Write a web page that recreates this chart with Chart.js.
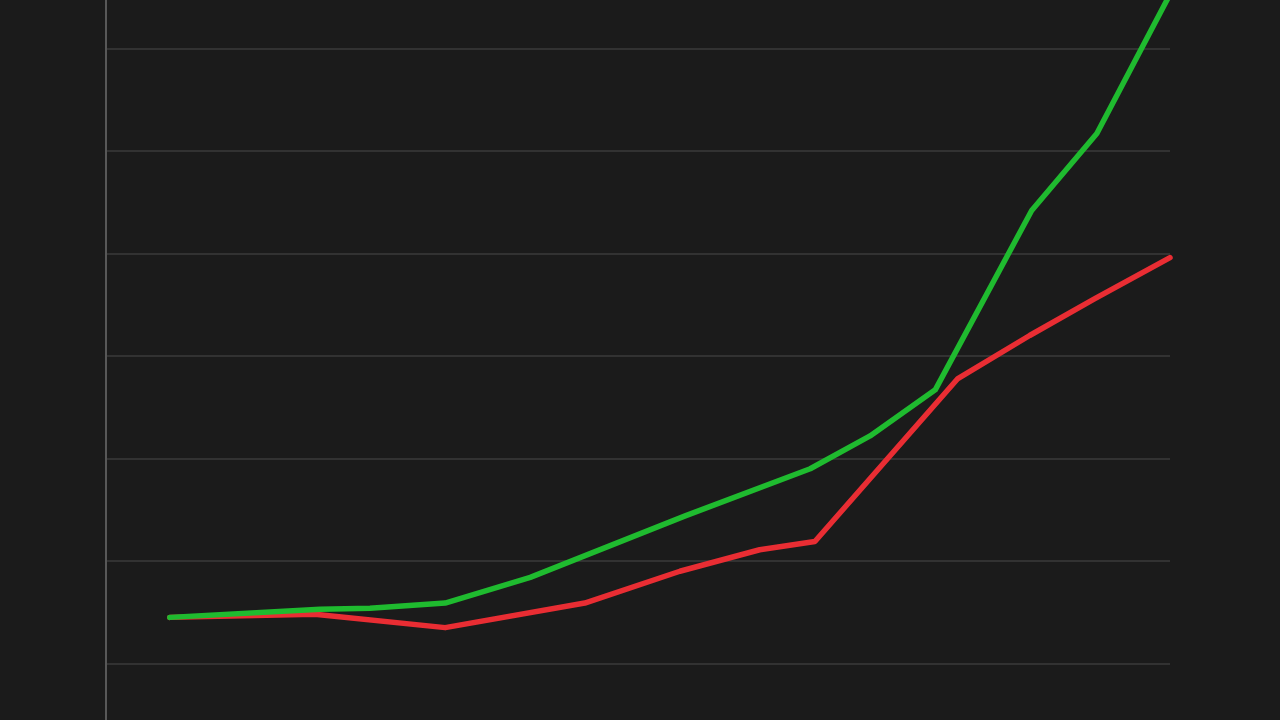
<!DOCTYPE html>
<html>
<head>
<meta charset="utf-8">
<script src="https://cdn.jsdelivr.net/npm/chart.js@4.4.1/dist/chart.umd.min.js"></script>
<style>
  html, body { margin: 0; padding: 0; background: #1b1b1b; overflow: hidden; }
  #wrap { position: absolute; left: 0; top: -54.5px; width: 1280px; height: 820px; }
</style>
</head>
<body>
<div id="wrap"><canvas id="graf"></canvas></div>
<script>
// valores (x em passos, y em unidades da grade)
const verdeX = [0.96, 3.22, 3.97, 5.10, 6.38, 8.71, 10.59, 11.49, 12.47, 13.92, 14.90, 16.0];
const verdeY = [0.45, 0.53, 0.54, 0.59, 0.84, 1.44, 1.90, 2.22, 2.67, 4.42, 5.17, 6.53];

const vermelhoX = [0.96, 3.14, 5.10, 7.20, 8.63, 9.83, 10.66, 12.81, 13.89, 14.87, 16.0];
const vermelhoY = [0.45, 0.48, 0.35, 0.59, 0.90, 1.11, 1.19, 2.78, 3.20, 3.56, 3.96];

const pontos = (xs, ys) => xs.map((x, i) => ({ x: x, y: ys[i] }));

const linha = {
  borderWidth: 5.5,
  pointRadius: 0,
  tension: 0,
  borderCapStyle: 'round',
  borderJoinStyle: 'round',
  clip: false
};

new Chart(document.getElementById('graf'), {
  type: 'line',
  data: {
    datasets: [
      { ...linha, data: pontos(verdeX, verdeY), borderColor: '#1fbb2f' },
      { ...linha, data: pontos(vermelhoX, vermelhoY), borderColor: '#e92d33' }
    ]
  },
  options: {
    responsive: true,
    maintainAspectRatio: false,
    animation: false,
    layout: { padding: { left: 106, right: 110, top: 0, bottom: 0 } },
    plugins: {
      legend: { display: false },
      tooltip: { enabled: false }
    },
    scales: {
      x: {
        type: 'linear',
        min: 0,
        max: 16,
        display: false
      },
      y: {
        min: -1,
        max: 7,
        ticks: { display: false, stepSize: 1 },
        grid: { color: '#323232', lineWidth: 2, drawTicks: false },
        border: { display: true, color: '#585858', width: 2 }
      }
    }
  }
});
</script>
</body>
</html>
